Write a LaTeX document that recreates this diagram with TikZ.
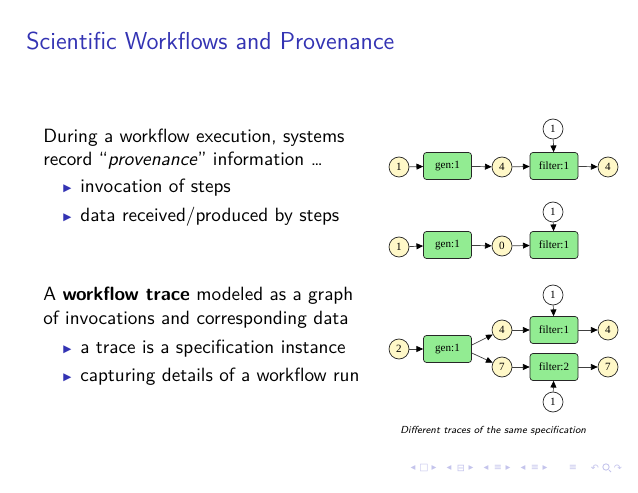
\documentclass[tikz,border=0pt]{standalone}
\usepackage{fontspec}
\newfontfamily\tnr{Liberation Serif}
\newfontfamily\dju{DejaVu Sans}
\usetikzlibrary{arrows.meta}
\definecolor{struct}{RGB}{51,51,179}
\definecolor{dcirc}{RGB}{255,248,200}
\definecolor{dbox}{RGB}{146,236,146}
\definecolor{navc}{RGB}{196,196,236}
\newdimen\px \px=0.5686pt
\tikzset{
  body/.style={anchor=base west,inner sep=0pt,font=\sffamily\fontsize{10.9}{13}\selectfont},
  bul/.style={anchor=base west,inner sep=0pt,text=struct,font=\dju\fontsize{6}{7}\selectfont},
  dat/.style={circle,draw=black!85,line width=0.4pt,fill=dcirc,minimum size=20\px,inner sep=0pt,font=\tnr\fontsize{6.3}{7}\selectfont},
  par/.style={dat,fill=white},
  act/.style={rectangle,rounded corners=1.7pt,draw=black!85,line width=0.4pt,fill=dbox,minimum width=48\px,minimum height=27\px,inner sep=0pt,font=\tnr\fontsize{6.3}{7}\selectfont},
  fl/.style={draw=black!75,line width=0.4pt,-{Triangle[length=3.8pt,width=3.4pt,color=black]}},
  nav/.style={text=navc,inner sep=0pt,font=\dju\fontsize{5.5}{6}\selectfont}
}
\begin{document}
\begin{tikzpicture}[x=\px,y=-\px]
\useasboundingbox (0,0) rectangle (638,493);
% title
\node[anchor=base west,inner sep=0pt,text=struct,font=\sffamily\fontsize{13.95}{16}\selectfont] (title) at (26,49.5) {Scientific Workflows and Provenance};
% text block 1
\node[body] (t1) at (43,142.5) {During a workflow execution, systems};
\node[body] (t2) at (43,165.5) {record ``\emph{provenance}'' information \dots};
\node[bul] (b1) at (63,192) {▶};
\node[body] (t3) at (80,193) {invocation of steps};
\node[bul] (b2) at (63,221) {▶};
\node[body] (t4) at (80,222) {data received/produced by steps};
% text block 2
\node[body] (t5) at (43,301) {A \textbf{workflow trace} modeled as a graph};
\node[body] (t6) at (43,324) {of invocations and corresponding data};
\node[bul] (b3) at (63,352) {▶};
\node[body] (t7) at (80,353) {a trace is a specification instance};
\node[bul] (b4) at (63,380) {▶};
\node[body] (t8) at (80,381) {capturing details of a workflow run};
% trace 1
\node[dat] (a1) at (399,167) {1};
\node[act] (a2) at (447.5,166) {gen:1};
\node[dat] (a3) at (502,167) {4};
\node[act] (a4) at (554,166) {filter:1};
\node[dat] (a5) at (608,167) {4};
\node[par] (a6) at (553,129) {1};
\draw[fl] (a1) -- (a2);
\draw[fl] (a2) -- (a3);
\draw[fl] (a3) -- (a4);
\draw[fl] (a4) -- (a5);
\draw[fl] (a6) -- (a4);
% trace 2
\node[dat] (c1) at (399,247) {1};
\node[act] (c2) at (447.5,245) {gen:1};
\node[dat] (c3) at (502,246) {0};
\node[act] (c4) at (554,245) {filter:1};
\node[par] (c6) at (553,212) {1};
\draw[fl] (c1) -- (c2);
\draw[fl] (c2) -- (c3);
\draw[fl] (c3) -- (c4);
\draw[fl] (c6) -- (c4);
% trace 3
\node[dat] (d1) at (399,349) {2};
\node[act] (d2) at (447.5,349) {gen:1};
\node[dat] (d3) at (502,330) {4};
\node[act] (d4) at (554,330) {filter:1};
\node[dat] (d5) at (608,330) {4};
\node[par] (d6) at (553,295) {1};
\node[dat] (d7) at (502,367) {7};
\node[act] (d8) at (554,367) {filter:2};
\node[dat] (d9) at (608,367) {7};
\node[par] (d10) at (553,402) {1};
\draw[fl] (d1) -- (d2);
\coordinate (g1) at ([yshift=2.3pt]d2.east);
\coordinate (g2) at ([yshift=-2.3pt]d2.east);
\draw[fl] (g1) -- (d3);
\draw[fl] (g2) -- (d7);
\draw[fl] (d3) -- (d4);
\draw[fl] (d4) -- (d5);
\draw[fl] (d6) -- (d4);
\draw[fl] (d7) -- (d8);
\draw[fl] (d8) -- (d9);
\draw[fl] (d10) -- (d8);
% caption
\node[anchor=base west,inner sep=0pt,font=\sffamily\itshape\fontsize{5.8}{7}\selectfont] (cap) at (400,433) {Different traces of the same specification};
% navigation symbols
\node[nav] (n1) at (413,468) {◂};
\node[nav] (n2) at (424,468) {□};
\node[nav] (n3) at (434,468) {▸};
\node[nav] (n4) at (449,468) {◂};
\node[nav] (n5) at (461,468) {⊟};
\node[nav] (n6) at (471,468) {▸};
\node[nav] (n7) at (486,468) {◂};
\node[nav] (n8) at (498,468) {≡};
\node[nav] (n9) at (508,468) {▸};
\node[nav] (n10) at (523,468) {◂};
\node[nav] (n11) at (535,468) {≡};
\node[nav] (n12) at (545,468) {▸};
\node[nav] (n13) at (573,468) {≡};
\node[nav] (n14) at (595,468) {↶};
\draw[navc,line width=0.5pt] (606,467) circle (1.8pt) (609,470) -- (611,472);
\node[nav] (n16) at (618,468) {↷};
\end{tikzpicture}
\end{document}
